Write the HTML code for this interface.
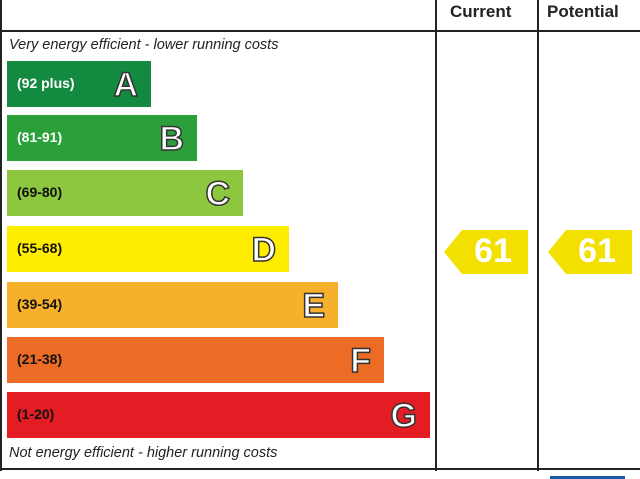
<!DOCTYPE html><html><head><style>
body{margin:0;width:640px;height:479px;background:#fff;position:relative;overflow:hidden;font-family:"Liberation Sans",sans-serif}
.l{position:absolute;background:#222}
.b{position:absolute;left:7px;height:46px;color:#fff;font-weight:bold;font-size:14px}
.b span{position:absolute;left:10px;top:14px}
.b i{position:absolute;right:13px;top:5px;font-style:normal;font-size:34px;color:#fff;-webkit-text-stroke:1.5px #333;font-weight:bold}
.t{position:absolute;font-style:italic;font-size:14.5px;color:#222;left:9px}
.h{position:absolute;top:2px;font-weight:bold;font-size:17px;color:#222}
.ar{position:absolute;top:230px;height:44px;width:84px;background:#f4e000;clip-path:polygon(0 50%,18px 0,100% 0,100% 100%,18px 100%);color:#fff;font-weight:bold;font-size:34px;text-align:right}
.ar span{position:absolute;right:16px;top:2px}
</style></head><body>
<div class="l" style="left:0;top:0;width:2px;height:471px"></div>
<div class="l" style="left:435px;top:0;width:2px;height:471px"></div>
<div class="l" style="left:537px;top:0;width:2px;height:471px"></div>
<div class="l" style="left:0;top:30px;width:640px;height:2px"></div>
<div class="l" style="left:0;top:468px;width:640px;height:2px"></div>
<div style="position:absolute;left:550px;top:476px;width:75px;height:3px;background:#1a5aa8"></div>
<div class="h" style="left:450px">Current</div>
<div class="h" style="left:547px">Potential</div>
<div class="t" style="top:37px">Very energy efficient - lower running costs</div>
<div class="t" style="top:445px">Not energy efficient - higher running costs</div>
<div class="b" style="top:61px;width:144px;background:#138a3f"><span>(92 plus)</span><i>A</i></div>
<div class="b" style="top:115px;width:190px;background:#2ba03a"><span>(81-91)</span><i>B</i></div>
<div class="b" style="top:170px;width:236px;background:#8dc63f;color:#111"><span>(69-80)</span><i>C</i></div>
<div class="b" style="top:226px;width:282px;background:#ffed00;color:#111"><span>(55-68)</span><i>D</i></div>
<div class="b" style="top:282px;width:331px;background:#f7b02b;color:#111"><span>(39-54)</span><i>E</i></div>
<div class="b" style="top:337px;width:377px;background:#ec6b25;color:#111"><span>(21-38)</span><i>F</i></div>
<div class="b" style="top:392px;width:423px;background:#e31d23;color:#111"><span>(1-20)</span><i>G</i></div>
<div class="ar" style="left:444px"><span>61</span></div>
<div class="ar" style="left:548px"><span>61</span></div>
</body></html>
